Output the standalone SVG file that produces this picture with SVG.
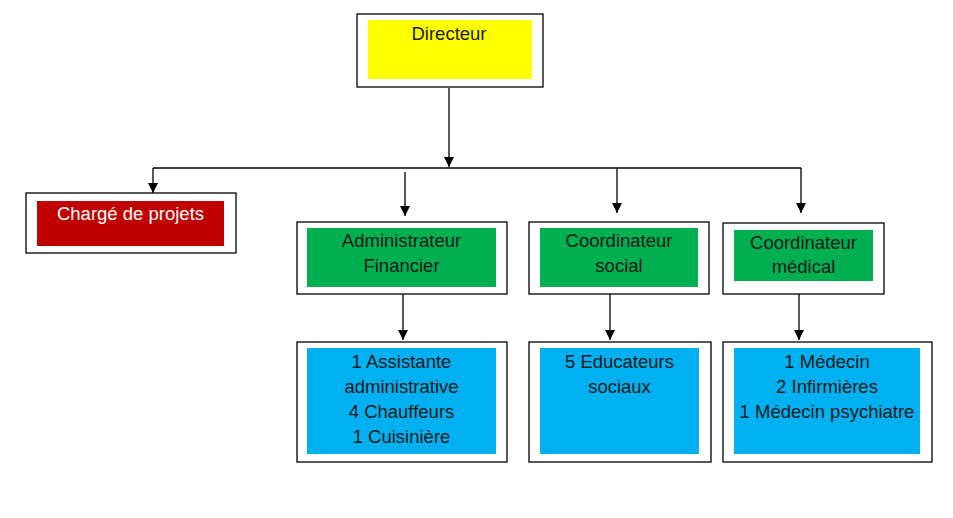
<svg xmlns="http://www.w3.org/2000/svg" width="953" height="518" viewBox="0 0 953 518">
<defs>
<style>
.outer{fill:#fff;stroke:#000;stroke-width:1.3}
.t{font-family:"Liberation Sans",Arial,sans-serif;font-size:18.5px;fill:#1a1a1a;text-anchor:middle}
.w{fill:#fff}
.c{fill:none;stroke:#000;stroke-width:1.3}
</style>
<marker id="ah" viewBox="0 0 10 10" refX="10" refY="5" markerWidth="10" markerHeight="10" markerUnits="userSpaceOnUse" orient="auto">
<path d="M0,0 L10,5 L0,10 z" fill="#000"/>
</marker>
</defs>
<rect width="953" height="518" fill="#fff"/>
<g id="connectors">
<path class="c" d="M449,88 V167" marker-end="url(#ah)"/>
<path class="c" d="M153,168 H801"/>
<path class="c" d="M153,168 V193" marker-end="url(#ah)"/>
<path class="c" d="M801,168 V213" marker-end="url(#ah)"/>
<path class="c" d="M405,172 V216" marker-end="url(#ah)"/>
<path class="c" d="M617,168 V213" marker-end="url(#ah)"/>
<path class="c" d="M403,294 V340" marker-end="url(#ah)"/>
<path class="c" d="M610,294 V340" marker-end="url(#ah)"/>
<path class="c" d="M799,294 V340" marker-end="url(#ah)"/>
</g>
<g id="directeur">
<rect class="outer" x="357" y="14" width="186" height="73"/>
<rect x="368" y="20" width="164" height="59" fill="#FFFF00"/>
<text class="t" x="449" y="40">Directeur</text>
</g>
<g id="charge">
<rect class="outer" x="26" y="193" width="210" height="60"/>
<rect x="37" y="201" width="187" height="45" fill="#C00000"/>
<text class="t w" x="130.5" y="220">Chargé de projets</text>
</g>
<g id="admin">
<rect class="outer" x="297" y="222" width="210" height="72"/>
<rect x="307" y="228" width="189" height="59" fill="#00B050"/>
<text class="t" x="401.5" y="247">Administrateur</text>
<text class="t" x="401.5" y="272">Financier</text>
</g>
<g id="social">
<rect class="outer" x="529" y="222" width="180" height="72"/>
<rect x="540" y="228" width="158" height="59" fill="#00B050"/>
<text class="t" x="619" y="247">Coordinateur</text>
<text class="t" x="619" y="272">social</text>
</g>
<g id="medical">
<rect class="outer" x="723" y="223" width="161" height="71"/>
<rect x="734" y="230" width="139" height="51" fill="#00B050"/>
<text class="t" x="803.5" y="249">Coordinateur</text>
<text class="t" x="803.5" y="273">médical</text>
</g>
<g id="admin-staff">
<rect class="outer" x="297" y="342" width="210" height="120"/>
<rect x="307" y="348" width="189" height="106" fill="#00B0F0"/>
<text class="t" x="401.5" y="368">1 Assistante</text>
<text class="t" x="401.5" y="393">administrative</text>
<text class="t" x="401.5" y="418">4 Chauffeurs</text>
<text class="t" x="401.5" y="443">1 Cuisinière</text>
</g>
<g id="social-staff">
<rect class="outer" x="529" y="342" width="182" height="120"/>
<rect x="540" y="348" width="159" height="106" fill="#00B0F0"/>
<text class="t" x="619.5" y="368">5 Educateurs</text>
<text class="t" x="619.5" y="393">sociaux</text>
</g>
<g id="medical-staff">
<rect class="outer" x="723" y="342" width="209" height="120"/>
<rect x="734" y="348" width="186" height="106" fill="#00B0F0"/>
<text class="t" x="827" y="368">1 Médecin</text>
<text class="t" x="827" y="393">2 Infirmières</text>
<text class="t" x="827" y="418">1 Médecin psychiatre</text>
</g>
</svg>
